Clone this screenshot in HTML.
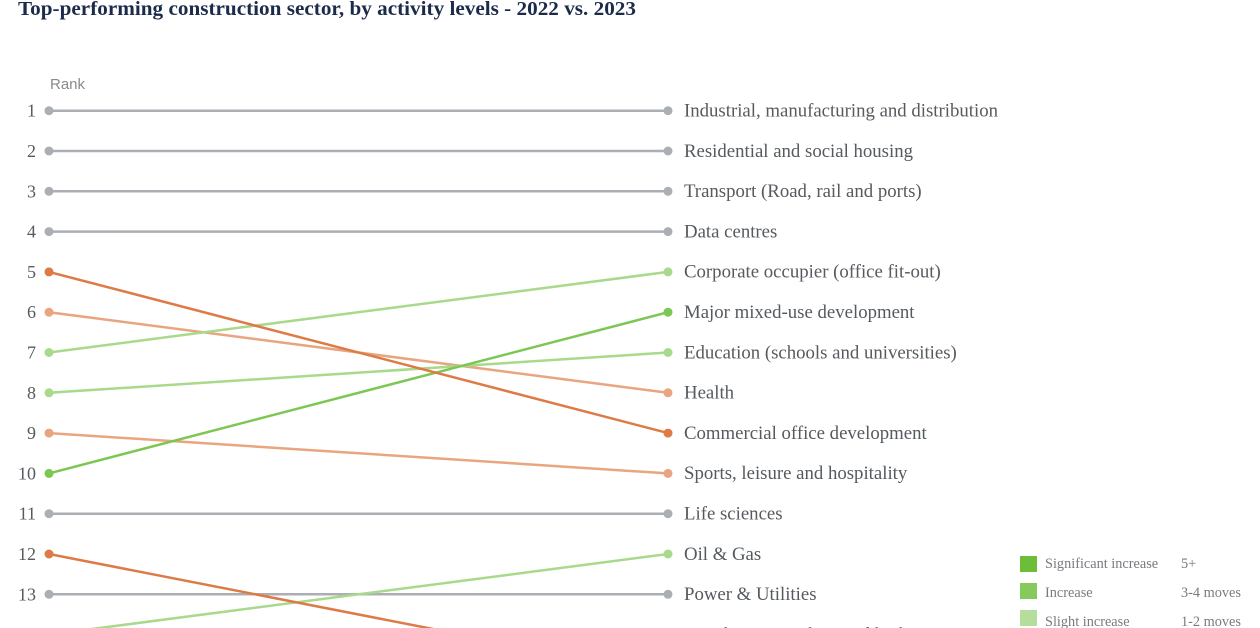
<!DOCTYPE html>
<html><head><meta charset="utf-8"><style>
html,body{margin:0;padding:0;background:#fff;width:1260px;height:628px;overflow:hidden;}
svg{display:block;overflow:hidden;}
</style></head><body>
<svg width="1260" height="628" viewBox="0 0 1260 628" xmlns="http://www.w3.org/2000/svg">
<rect width="1260" height="628" fill="#fff"/>
<text x="18" y="15" font-family="Liberation Serif, serif" font-weight="bold" font-size="19.5" fill="#1c2b4a" textLength="618" lengthAdjust="spacingAndGlyphs">Top-performing construction sector, by activity levels - 2022 vs. 2023</text>
<text x="50" y="89" font-family="Liberation Sans, sans-serif" font-size="15" fill="#8a8a8a">Rank</text>
<g font-family="Liberation Serif, serif" font-size="18" fill="#555a5f" text-anchor="end">
<text x="36" y="116.7">1</text>
<text x="36" y="157">2</text>
<text x="36" y="197.3">3</text>
<text x="36" y="237.6">4</text>
<text x="36" y="277.9">5</text>
<text x="36" y="318.2">6</text>
<text x="36" y="358.5">7</text>
<text x="36" y="398.8">8</text>
<text x="36" y="439.1">9</text>
<text x="36" y="479.4">10</text>
<text x="36" y="519.7">11</text>
<text x="36" y="560">12</text>
<text x="36" y="600.3">13</text>
</g>
<g stroke-width="2.5" fill="none" stroke-linecap="round">
<line x1="49" y1="110.7" x2="668" y2="110.7" stroke="#abafb3"/>
<line x1="49" y1="151" x2="668" y2="151" stroke="#abafb3"/>
<line x1="49" y1="191.3" x2="668" y2="191.3" stroke="#abafb3"/>
<line x1="49" y1="231.6" x2="668" y2="231.6" stroke="#abafb3"/>
<line x1="49" y1="513.7" x2="668" y2="513.7" stroke="#abafb3"/>
<line x1="49" y1="594.3" x2="668" y2="594.3" stroke="#abafb3"/>
<line x1="49" y1="312.2" x2="668" y2="392.8" stroke="#e8a57f"/>
<line x1="49" y1="433.1" x2="668" y2="473.4" stroke="#e8a57f"/>
<line x1="49" y1="352.5" x2="668" y2="271.9" stroke="#a9d98b"/>
<line x1="49" y1="392.8" x2="668" y2="352.5" stroke="#a9d98b"/>
<line x1="49" y1="634.6" x2="668" y2="554" stroke="#a9d98b"/>
<line x1="49" y1="473.4" x2="668" y2="312.2" stroke="#7cc752"/>
<line x1="49" y1="271.9" x2="668" y2="433.1" stroke="#dd7b47"/>
<line x1="49" y1="554" x2="668" y2="674.9" stroke="#dd7b47"/>
</g>
<g>
<circle cx="49" cy="110.7" r="4.5" fill="#abafb3"/><circle cx="668" cy="110.7" r="4.5" fill="#abafb3"/>
<circle cx="49" cy="151" r="4.5" fill="#abafb3"/><circle cx="668" cy="151" r="4.5" fill="#abafb3"/>
<circle cx="49" cy="191.3" r="4.5" fill="#abafb3"/><circle cx="668" cy="191.3" r="4.5" fill="#abafb3"/>
<circle cx="49" cy="231.6" r="4.5" fill="#abafb3"/><circle cx="668" cy="231.6" r="4.5" fill="#abafb3"/>
<circle cx="49" cy="513.7" r="4.5" fill="#abafb3"/><circle cx="668" cy="513.7" r="4.5" fill="#abafb3"/>
<circle cx="49" cy="594.3" r="4.5" fill="#abafb3"/><circle cx="668" cy="594.3" r="4.5" fill="#abafb3"/>
<circle cx="49" cy="312.2" r="4.5" fill="#e8a57f"/><circle cx="668" cy="392.8" r="4.5" fill="#e8a57f"/>
<circle cx="49" cy="433.1" r="4.5" fill="#e8a57f"/><circle cx="668" cy="473.4" r="4.5" fill="#e8a57f"/>
<circle cx="49" cy="352.5" r="4.5" fill="#a9d98b"/><circle cx="668" cy="271.9" r="4.5" fill="#a9d98b"/>
<circle cx="49" cy="392.8" r="4.5" fill="#a9d98b"/><circle cx="668" cy="352.5" r="4.5" fill="#a9d98b"/>
<circle cx="668" cy="554" r="4.5" fill="#a9d98b"/>
<circle cx="49" cy="473.4" r="4.5" fill="#7cc752"/><circle cx="668" cy="312.2" r="4.5" fill="#7cc752"/>
<circle cx="49" cy="271.9" r="4.5" fill="#dd7b47"/><circle cx="668" cy="433.1" r="4.5" fill="#dd7b47"/>
<circle cx="49" cy="554" r="4.5" fill="#dd7b47"/>
</g>
<g font-family="Liberation Serif, serif" font-size="18.8" fill="#555a5f">
<text x="684" y="116.5">Industrial, manufacturing and distribution</text>
<text x="684" y="156.8">Residential and social housing</text>
<text x="684" y="197.1">Transport (Road, rail and ports)</text>
<text x="684" y="237.4">Data centres</text>
<text x="684" y="277.7">Corporate occupier (office fit-out)</text>
<text x="684" y="318">Major mixed-use development</text>
<text x="684" y="358.3">Education (schools and universities)</text>
<text x="684" y="398.6">Health</text>
<text x="684" y="438.9">Commercial office development</text>
<text x="684" y="479.2">Sports, leisure and hospitality</text>
<text x="684" y="519.5">Life sciences</text>
<text x="684" y="559.8">Oil &amp; Gas</text>
<text x="684" y="600.1">Power &amp; Utilities</text>
<text x="684" y="640.4">Retail, supermarkets and high streets</text>
</g>
<g>
<rect x="1020" y="556" width="17" height="16" fill="#6bbd3a"/>
<rect x="1020" y="583" width="17" height="16" fill="#86c95c"/>
<rect x="1020" y="610" width="17" height="16" fill="#b5dd9b"/>
</g>
<g font-family="Liberation Serif, serif" font-size="14.3" fill="#777b80">
<text x="1045" y="568">Significant increase</text>
<text x="1045" y="597">Increase</text>
<text x="1045" y="626">Slight increase</text>
<text x="1181" y="568">5+</text>
<text x="1181" y="597">3-4 moves</text>
<text x="1181" y="626">1-2 moves</text>
</g>
</svg>
</body></html>
